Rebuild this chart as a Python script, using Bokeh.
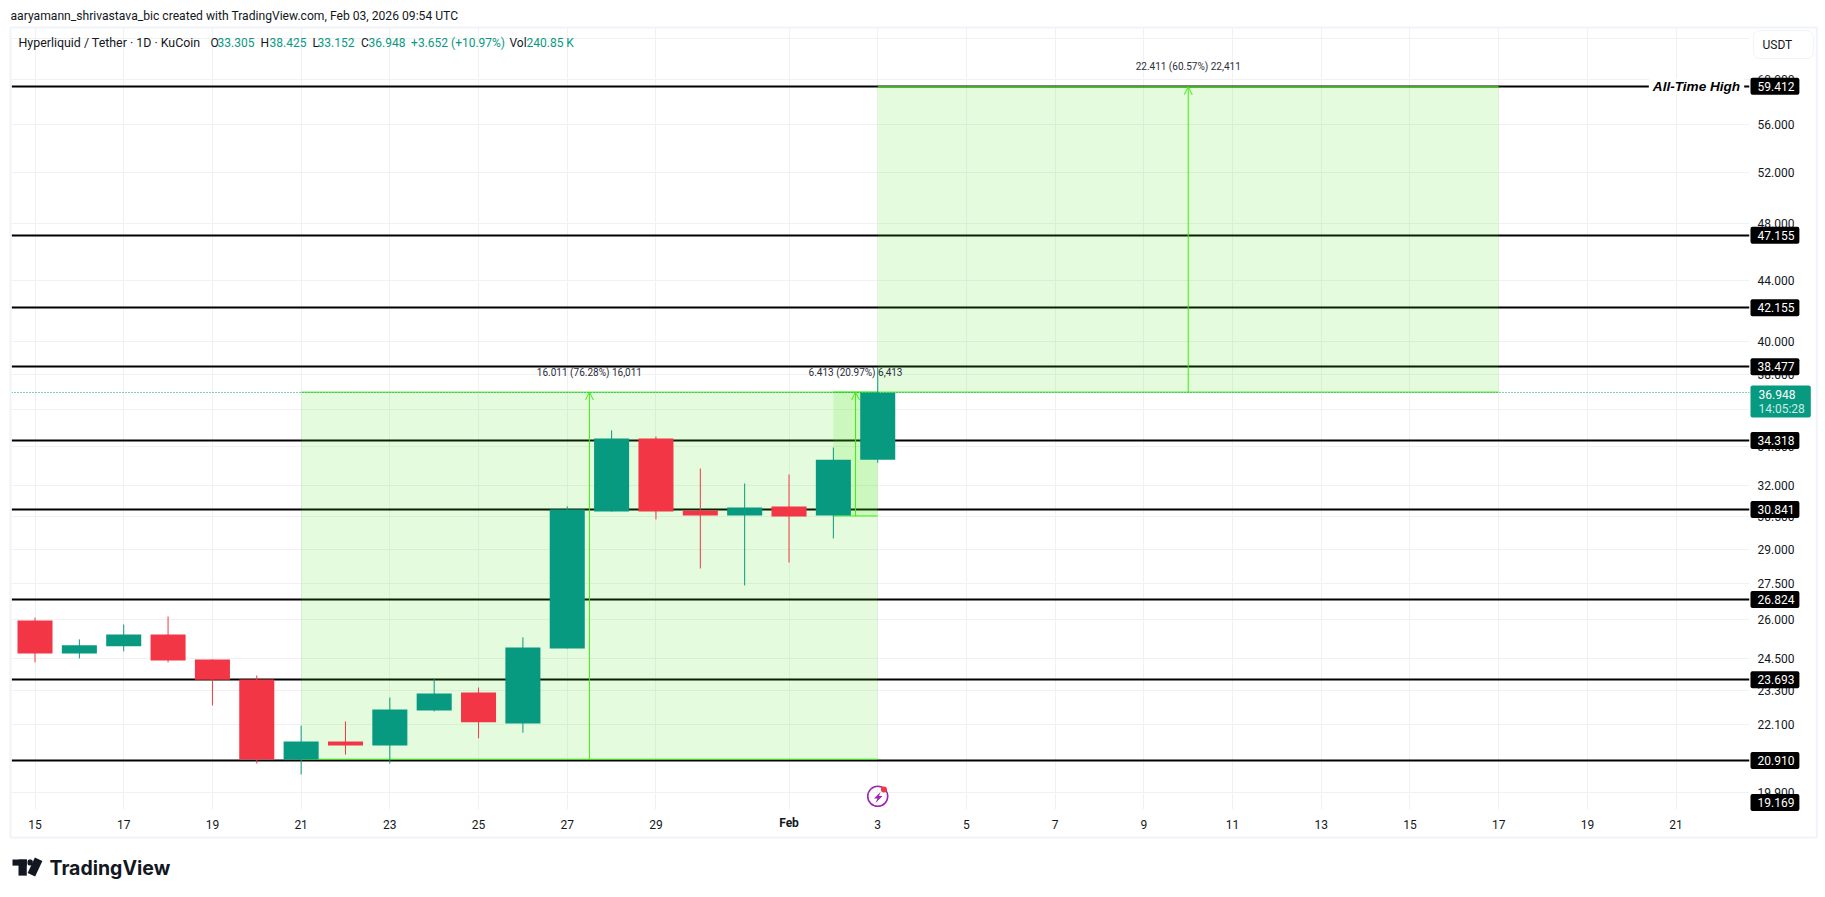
from bokeh.plotting import figure
from bokeh.embed import file_html
from bokeh.resources import INLINE
from bokeh.models import (Range1d, FixedTicker, NumeralTickFormatter, Label,
                          PolyAnnotation, Arrow, OpenHead)

# ---------- data ----------
day_index = list(range(20))
opens  = [25.97, 24.68, 24.95, 25.41, 24.45, 23.70, 20.94, 21.53, 21.40, 22.59,
          23.23, 22.14, 24.87, 30.74, 34.43, 30.79, 30.56, 30.99, 30.56, 33.305]
highs  = [26.09, 25.22, 25.81, 26.13, 24.45, 23.85, 22.07, 22.21, 23.05, 23.74,
          23.41, 25.30, 30.99, 34.86, 34.53, 32.86, 32.11, 32.56, 33.95, 38.425]
lows   = [24.34, 24.49, 24.76, 24.34, 22.77, 20.81, 20.46, 21.10, 20.81, 22.56,
          21.64, 21.83, 24.87, 30.74, 30.37, 28.15, 27.42, 28.41, 29.49, 33.152]
closes = [24.68, 24.99, 25.41, 24.41, 23.69, 20.94, 21.53, 21.40, 22.63, 23.19,
          22.18, 24.91, 30.84, 34.43, 30.74, 30.56, 30.94, 30.51, 33.305, 36.948]

x_ticks = [0, 2, 4, 6, 8, 10, 12, 14, 17, 19, 21, 23, 25, 27, 29, 31, 33, 35, 37]
x_tick_labels = ["15", "17", "19", "21", "23", "25", "27", "29", "", "3", "5", "7", "9",
                 "11", "13", "15", "17", "19", "21"]
month_tick = 17
month_label = "Feb"
price_ticks = [64, 60, 56, 52, 48, 44, 40, 38, 36, 34, 32, 30.5, 29, 27.5, 26, 24.5, 23.3, 22.1, 19.9]

levels = [59.412, 47.155, 42.155, 38.477, 34.318, 30.841, 26.824, 23.693, 20.910]
level_tags = ["59.412", "47.155", "42.155", "38.477", "34.318", "30.841", "26.824", "23.693", "20.910"]
pinned_tag_value = 19.59
pinned_tag_text = "19.169"
last_price = 36.948

measures = [
    dict(x0=6, x1=19, bottom=20.95, top=36.99, ax=12.5, text="16.011 (76.28%) 16,011"),
    dict(x0=18, x1=19, bottom=30.535, top=36.99, ax=18.5, text="6.413 (20.97%) 6,413"),
    dict(x0=19, x1=33, bottom=36.99, top=59.359, ax=26, text="22.411 (60.57%) 22,411"),
]

# ---------- style ----------
TEAL, RED, LIME, LIME_LINE = "#089981", "#F23645", "#41E60F", "#3BF00A"
INK = "#131722"
GRID = "#F0F1F3"
FONT = "Roboto"

p = figure(width=1825, height=897, frame_width=1738, frame_height=781,
           output_backend="svg", toolbar_location=None,
           x_range=Range1d(-0.53, 38.655), y_range=Range1d(19.38, 64.96),
           y_axis_type="log", y_axis_location="right",
           min_border_left=11, min_border_right=76, min_border_top=28, min_border_bottom=88,
           background_fill_color="white", border_fill_color="white")
p.outline_line_color = None


def outside(item):
    # side-panel annotations are not clipped to the plot frame
    p.add_layout(item, "below")


# axes
xa, ya = p.xaxis[0], p.yaxis[0]
xa.ticker = FixedTicker(ticks=x_ticks)
xa.major_label_overrides = {t: s for t, s in zip(x_ticks, x_tick_labels)}
ya.ticker = FixedTicker(ticks=price_ticks)
ya.formatter = NumeralTickFormatter(format="0.000")
for a in (xa, ya):
    a.axis_line_color = None
    a.major_tick_line_color = None
    a.minor_tick_line_color = None
    a.major_label_text_color = INK
    a.major_label_text_font = FONT
    a.major_label_text_font_size = "12px"
xa.major_label_standoff = 4
ya.major_label_standoff = 2
p.xgrid.ticker = FixedTicker(ticks=x_ticks)
p.ygrid.ticker = FixedTicker(ticks=price_ticks)
p.xgrid.grid_line_color = GRID
p.ygrid.grid_line_color = GRID

# horizontal levels, under the green zones
p.hspan(y=levels, line_color="black", line_width=2)

# measure zones
for m in measures:
    p.quad(left=m["x0"], right=m["x1"], bottom=m["bottom"], top=m["top"],
           fill_color=LIME, fill_alpha=0.14, line_color=None)
    p.segment(x0=[m["x0"], m["x0"]], x1=[m["x1"], m["x1"]],
              y0=[m["bottom"], m["top"]], y1=[m["bottom"], m["top"]],
              line_color=LIME_LINE, line_width=1)
    p.add_layout(Arrow(end=OpenHead(size=8, line_color=LIME_LINE, line_width=1),
                       x_start=m["ax"], x_end=m["ax"], y_start=m["bottom"], y_end=m["top"],
                       line_color=LIME_LINE, line_width=1))
    p.add_layout(Label(x=m["ax"], y=m["top"], y_offset=20, text=m["text"], text_align="center",
                       text_baseline="middle", text_color="#2A2E39", text_font=FONT,
                       text_font_size="10px"))

dotted = p.hspan(y=[last_price], line_color=TEAL, line_width=1)
dotted.glyph.line_dash = [1, 2]

# candles
colors = [TEAL if c >= o else RED for o, c in zip(opens, closes)]
p.segment(x0=day_index, x1=day_index, y0=lows, y1=highs, line_color=colors, line_width=1)
p.vbar(x=day_index, width=0.79, bottom=[min(o, c) for o, c in zip(opens, closes)],
       top=[max(o, c) for o, c in zip(opens, closes)], fill_color=colors, line_color=None)


def text(x, y, s, color=INK, size="12px", style="normal", font=FONT, **kw):
    outside(Label(x=x, y=y, x_units="canvas", y_units="canvas", text=s, text_color=color,
                  text_font=font, text_font_size=size, text_font_style=style,
                  text_baseline="middle", **kw))


def box(left, right, top, bottom, fill=None, **kw):
    # a blank label whose padding draws the rectangle outside the frame
    outside(Label(x=left, y=top, x_units="canvas", y_units="canvas", text=" ", text_font_size="1px",
                  text_align="left", text_baseline="top", background_fill_color=fill,
                  padding=dict(left=0, right=right - left, top=0, bottom=bottom - top), **kw))


# outer frame
box(10, 1816, 27, 836, border_line_color="#F0F3FA", border_line_width=2)

# month tick
outside(Label(x=month_tick, y=822, y_units="canvas", text=month_label, text_color=INK,
              text_font=FONT, text_font_size="12px", text_font_style="bold",
              text_align="center", text_baseline="middle"))

# price tags
for v, s in zip(levels + [pinned_tag_value], level_tags + [pinned_tag_text]):
    outside(Label(x=1750, y=v, x_units="canvas", text=s, text_color="white", text_font=FONT,
                  text_font_size="12px", text_baseline="middle", background_fill_color="black",
                  padding=dict(left=7, right=5, top=4, bottom=4), border_radius=2))

# all-time high label
outside(Label(x=1696, y=levels[0], x_units="canvas", text="All-Time High", text_color="black",
              text_font="Liberation Sans", text_font_size="13.6px", text_font_style="bold italic",
              text_align="center", text_baseline="middle", background_fill_color="white",
              padding=dict(x=4, y=0)))

# last-price tag
box(1750, 1810, 385, 416, fill=TEAL, border_radius=2)
text(1758, 394, "36.948", color="white")
text(1758, 408, "14:05:28", color="#CBEBE4")

# currency button
text(1753, 44, "USDT", padding=dict(left=9, right=21, top=7, bottom=7), background_fill_color="white",
     border_line_color="#F0F3FA", border_radius=6)

# header texts
text(10, 15, "aaryamann_shrivastava_bic created with TradingView.com, Feb 03, 2026 09:54 UTC", size="12.13px")
text(18, 42, "Hyperliquid / Tether · 1D · KuCoin", size="12.4px")
legend_parts = [(210, "O", INK), (217, "33.305", TEAL),
                (260, "H", INK), (269, "38.425", TEAL), (312, "L", INK), (317, "33.152", TEAL),
                (360.5, "C", INK), (368, "36.948", TEAL), (410.6, "+3.652 (+10.97%)", TEAL),
                (509, "Vol", INK), (526, "240.85 K", TEAL)]
for lx, s, col in legend_parts:
    text(lx, 42, s, color=col)

# event icon
p.scatter(x=[19], y=[19.78], size=20, marker="circle", fill_alpha=0, line_color="#9C27B0", line_width=1.6)
p.scatter(x=[19.14], y=[19.99], size=6, marker="circle", fill_color=RED, line_color=None)
p.add_layout(PolyAnnotation(xs=[880, 873.5, 877, 875, 882, 878.5], ys=[791.5, 798, 798, 802.5, 795.5, 795.5],
                            xs_units="canvas", ys_units="canvas", fill_color="#9C27B0", fill_alpha=1,
                            line_color=None))

# TradingView logo
logo = "#131722"
box(12, 26, 859, 864, fill=logo)
box(18, 26, 859, 874, fill=logo)
box(27, 32, 859, 864, fill=logo, border_radius=2)
outside(Label(x=34.5, y=866.5, x_units="canvas", y_units="canvas", text=" ", text_font_size="1px",
              text_align="center", text_baseline="middle", background_fill_color=logo,
              padding=dict(x=4, y=8), angle=-25, angle_units="deg"))
text(49, 867, "TradingView", color=logo, size="19.5px", style="bold", font="Inter")

open("out.html", "w").write(file_html(p, INLINE))
